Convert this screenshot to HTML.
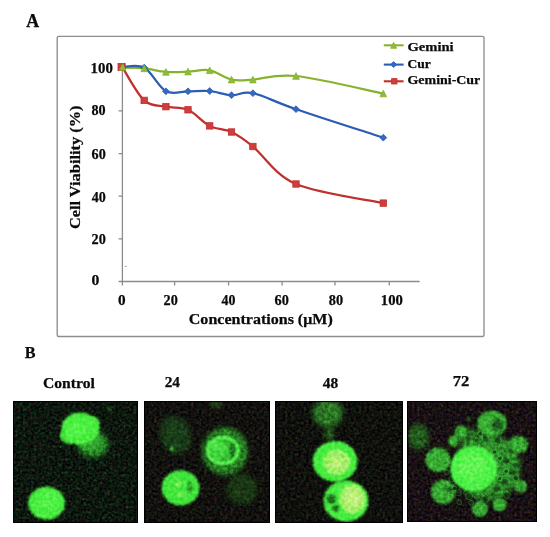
<!DOCTYPE html>
<html><head><meta charset="utf-8"><style>
html,body{margin:0;padding:0;background:#fff;}
body{width:550px;height:537px;overflow:hidden;position:relative;}
svg.main{position:absolute;left:0;top:0;}
text{font-family:"Liberation Serif",serif;font-weight:bold;fill:#0a0a0a;stroke:#0a0a0a;stroke-width:0.25px;}
.tk{font-size:14.5px;}
.ax{font-size:15.5px;}
.lg{font-size:14px;}
.pl{font-size:19.5px;}
.cap{font-size:16.3px;}
</style></head><body>
<svg class="main" width="550" height="537" viewBox="0 0 550 537">
<defs><filter id="noise0" x="0" y="0" width="100%" height="100%" color-interpolation-filters="sRGB"><feTurbulence type="fractalNoise" baseFrequency="0.38" numOctaves="2" seed="3"/><feColorMatrix values="0.28 0.08 0 0 -0.13  0.08 0.36 0 0 -0.13  0.1 0.1 0 0 -0.045  0 0 0 0 1"/></filter><filter id="noise1" x="0" y="0" width="100%" height="100%" color-interpolation-filters="sRGB"><feTurbulence type="fractalNoise" baseFrequency="0.38" numOctaves="2" seed="4"/><feColorMatrix values="0.3 0.1 0 0 -0.13  0.1 0.25 0 0 -0.11  0.1 0.1 0.1 0 -0.095  0 0 0 0 1"/></filter><filter id="noise2" x="0" y="0" width="100%" height="100%" color-interpolation-filters="sRGB"><feTurbulence type="fractalNoise" baseFrequency="0.38" numOctaves="2" seed="5"/><feColorMatrix values="0.25 0.1 0 0 -0.115  0.1 0.25 0 0 -0.11  0.08 0.08 0.08 0 -0.07  0 0 0 0 1"/></filter><filter id="noise3" x="0" y="0" width="100%" height="100%" color-interpolation-filters="sRGB"><feTurbulence type="fractalNoise" baseFrequency="0.38" numOctaves="2" seed="6"/><feColorMatrix values="0.35 0.1 0 0 -0.13  0.1 0.25 0 0 -0.11  0.1 0 0.25 0 -0.1  0 0 0 0 1"/></filter><filter id="b6" x="-50%" y="-50%" width="200%" height="200%"><feGaussianBlur stdDeviation="0.6"/></filter><filter id="b7" x="-50%" y="-50%" width="200%" height="200%"><feGaussianBlur stdDeviation="0.7"/></filter><filter id="b8" x="-50%" y="-50%" width="200%" height="200%"><feGaussianBlur stdDeviation="0.8"/></filter><filter id="b9" x="-50%" y="-50%" width="200%" height="200%"><feGaussianBlur stdDeviation="0.9"/></filter><filter id="b10" x="-50%" y="-50%" width="200%" height="200%"><feGaussianBlur stdDeviation="1.0"/></filter><filter id="b11" x="-50%" y="-50%" width="200%" height="200%"><feGaussianBlur stdDeviation="1.1"/></filter><filter id="b12" x="-50%" y="-50%" width="200%" height="200%"><feGaussianBlur stdDeviation="1.2"/></filter><filter id="b13" x="-50%" y="-50%" width="200%" height="200%"><feGaussianBlur stdDeviation="1.3"/></filter><filter id="b15" x="-50%" y="-50%" width="200%" height="200%"><feGaussianBlur stdDeviation="1.5"/></filter><filter id="b18" x="-50%" y="-50%" width="200%" height="200%"><feGaussianBlur stdDeviation="1.8"/></filter><filter id="b20" x="-50%" y="-50%" width="200%" height="200%"><feGaussianBlur stdDeviation="2.0"/></filter><filter id="b22" x="-50%" y="-50%" width="200%" height="200%"><feGaussianBlur stdDeviation="2.2"/></filter><filter id="b25" x="-50%" y="-50%" width="200%" height="200%"><feGaussianBlur stdDeviation="2.5"/></filter><filter id="b30" x="-50%" y="-50%" width="200%" height="200%"><feGaussianBlur stdDeviation="3.0"/></filter><filter id="tex" x="0" y="0" width="100%" height="100%" color-interpolation-filters="sRGB"><feTurbulence type="fractalNoise" baseFrequency="0.3" numOctaves="3" seed="7"/><feColorMatrix values="0 1.6 0 0 -0.3  0 1.6 0 0 -0.3  0 1.6 0 0 -0.3  0 0 0 0 1"/></filter></defs>
<rect x="57.2" y="36.3" width="426.8" height="300.2" rx="1.5" fill="none" stroke="#8e8e8e" stroke-width="1.35"/><path d="M122.4,67 V285.6 M118.6,281.5 H419.6" stroke="#8c8c8c" stroke-width="1.3" fill="none"/><path d="M118.6,238.8 H122.4 M118.6,196.2 H122.4 M118.6,153.6 H122.4 M118.6,110.9 H122.4 M118.6,68.3 H122.4 M174.6,281.5 V285.6 M228.6,281.5 V285.6 M282.1,281.5 V285.6 M335.0,281.5 V285.6 M389.3,281.5 V285.6" stroke="#8c8c8c" stroke-width="1.3" fill="none"/><text x="90.61" y="72.92" style="font-size:14.4px" textLength="22.28" lengthAdjust="spacingAndGlyphs">100</text><text x="91.40" y="114.72" style="font-size:14.4px" textLength="14.16" lengthAdjust="spacingAndGlyphs">80</text><text x="91.60" y="158.72" style="font-size:14.4px" textLength="14.16" lengthAdjust="spacingAndGlyphs">60</text><text x="91.69" y="201.62" style="font-size:14.4px" textLength="14.07" lengthAdjust="spacingAndGlyphs">40</text><text x="91.53" y="243.62" style="font-size:14.4px" textLength="14.24" lengthAdjust="spacingAndGlyphs">20</text><text x="91.47" y="284.72" style="font-size:14.4px" textLength="7.86" lengthAdjust="spacingAndGlyphs">0</text><text x="117.99" y="305.10" style="font-size:14.4px" textLength="7.62" lengthAdjust="spacingAndGlyphs">0</text><text x="163.53" y="305.10" style="font-size:14.4px" textLength="14.24" lengthAdjust="spacingAndGlyphs">20</text><text x="221.59" y="305.10" style="font-size:14.4px" textLength="13.86" lengthAdjust="spacingAndGlyphs">40</text><text x="274.60" y="305.10" style="font-size:14.4px" textLength="14.27" lengthAdjust="spacingAndGlyphs">60</text><text x="328.80" y="305.10" style="font-size:14.4px" textLength="14.27" lengthAdjust="spacingAndGlyphs">80</text><text x="380.82" y="305.10" style="font-size:14.4px" textLength="22.07" lengthAdjust="spacingAndGlyphs">100</text><text x="188.80" y="324.40" style="font-size:15.4px" textLength="143.98" lengthAdjust="spacingAndGlyphs">Concentrations (μM)</text><text x="-0.82" y="0" style="font-size:15.1px" textLength="123.66" lengthAdjust="spacingAndGlyphs" transform="translate(80.4,228.3) rotate(-90)">Cell Viability (%)</text><rect x="124.8" y="265.9" width="2" height="1.1" fill="#aaa"/><path d="M122.3,67.6 C125.9,67.7 136.9,67.7 144.2,68.4 C151.5,69.1 158.6,71.4 165.9,71.9 C173.2,72.4 180.7,71.9 188.0,71.6 C195.3,71.3 202.4,69.0 209.7,70.3 C216.9,71.6 224.3,78.0 231.5,79.6 C238.7,81.1 242.2,80.2 252.9,79.6 C263.6,79.0 274.3,73.7 296.0,76.0 C317.7,78.3 368.8,90.6 383.3,93.5" fill="none" stroke="#86b22e" stroke-width="2.25" stroke-linejoin="round" stroke-linecap="round"/><path d="M122.3,67.0 C125.9,67.1 136.9,63.5 144.2,67.6 C151.5,71.6 158.6,87.3 165.9,91.3 C173.2,95.2 180.7,91.3 188.0,91.3 C195.3,91.2 202.4,90.3 209.7,91.0 C216.9,91.7 224.3,94.8 231.5,95.2 C238.7,95.6 242.2,90.9 252.9,93.2 C263.6,95.5 274.3,101.8 296.0,109.2 C317.7,116.6 368.8,132.9 383.3,137.7" fill="none" stroke="#2a5db3" stroke-width="2.25" stroke-linejoin="round" stroke-linecap="round"/><path d="M122.3,67.0 C125.9,72.6 136.9,93.8 144.2,100.4 C151.5,107.0 158.6,105.1 165.9,106.7 C173.2,108.3 180.7,106.6 188.0,109.8 C195.3,113.0 202.4,122.2 209.7,125.9 C216.9,129.6 224.3,128.6 231.5,132.0 C238.7,135.4 242.2,137.8 252.9,146.5 C263.6,155.2 274.3,174.6 296.0,184.0 C317.7,193.4 368.8,199.9 383.3,203.1" fill="none" stroke="#c0302e" stroke-width="2.25" stroke-linejoin="round" stroke-linecap="round"/><path d="M122.3,63.6 L125.7,67.0 L122.3,70.4 L118.9,67.0 Z" fill="#3568bf" stroke="#2a5db3" stroke-width="0.8"/><path d="M144.2,64.2 L147.6,67.6 L144.2,71.0 L140.8,67.6 Z" fill="#3568bf" stroke="#2a5db3" stroke-width="0.8"/><path d="M165.9,87.9 L169.3,91.3 L165.9,94.7 L162.5,91.3 Z" fill="#3568bf" stroke="#2a5db3" stroke-width="0.8"/><path d="M188.0,87.9 L191.4,91.3 L188.0,94.7 L184.6,91.3 Z" fill="#3568bf" stroke="#2a5db3" stroke-width="0.8"/><path d="M209.7,87.6 L213.1,91.0 L209.7,94.4 L206.3,91.0 Z" fill="#3568bf" stroke="#2a5db3" stroke-width="0.8"/><path d="M231.5,91.8 L234.9,95.2 L231.5,98.6 L228.1,95.2 Z" fill="#3568bf" stroke="#2a5db3" stroke-width="0.8"/><path d="M252.9,89.8 L256.3,93.2 L252.9,96.6 L249.5,93.2 Z" fill="#3568bf" stroke="#2a5db3" stroke-width="0.8"/><path d="M296.0,105.8 L299.4,109.2 L296.0,112.6 L292.6,109.2 Z" fill="#3568bf" stroke="#2a5db3" stroke-width="0.8"/><path d="M383.3,134.3 L386.7,137.7 L383.3,141.1 L379.9,137.7 Z" fill="#3568bf" stroke="#2a5db3" stroke-width="0.8"/><rect x="118.0" y="63.4" width="7.2" height="7.2" fill="#cf3e3c" stroke="#c0302e" stroke-width="0.8"/><rect x="141.0" y="97.2" width="6.4" height="6.4" fill="#cf3e3c" stroke="#c0302e" stroke-width="0.8"/><rect x="162.7" y="103.5" width="6.4" height="6.4" fill="#cf3e3c" stroke="#c0302e" stroke-width="0.8"/><rect x="184.8" y="106.6" width="6.4" height="6.4" fill="#cf3e3c" stroke="#c0302e" stroke-width="0.8"/><rect x="206.5" y="122.7" width="6.4" height="6.4" fill="#cf3e3c" stroke="#c0302e" stroke-width="0.8"/><rect x="228.3" y="128.8" width="6.4" height="6.4" fill="#cf3e3c" stroke="#c0302e" stroke-width="0.8"/><rect x="249.7" y="143.3" width="6.4" height="6.4" fill="#cf3e3c" stroke="#c0302e" stroke-width="0.8"/><rect x="292.8" y="180.8" width="6.4" height="6.4" fill="#cf3e3c" stroke="#c0302e" stroke-width="0.8"/><rect x="380.1" y="199.9" width="6.4" height="6.4" fill="#cf3e3c" stroke="#c0302e" stroke-width="0.8"/><path d="M122.6,63.7 L125.9,70.3 L119.3,70.3 Z" fill="#8fbb3c" stroke="#86b22e" stroke-width="0.8"/><path d="M144.2,65.1 L147.5,71.7 L140.9,71.7 Z" fill="#8fbb3c" stroke="#86b22e" stroke-width="0.8"/><path d="M165.9,68.6 L169.2,75.2 L162.6,75.2 Z" fill="#8fbb3c" stroke="#86b22e" stroke-width="0.8"/><path d="M188.0,68.3 L191.3,74.9 L184.7,74.9 Z" fill="#8fbb3c" stroke="#86b22e" stroke-width="0.8"/><path d="M209.7,67.0 L213.0,73.6 L206.4,73.6 Z" fill="#8fbb3c" stroke="#86b22e" stroke-width="0.8"/><path d="M231.5,76.3 L234.8,82.9 L228.2,82.9 Z" fill="#8fbb3c" stroke="#86b22e" stroke-width="0.8"/><path d="M252.9,76.3 L256.2,82.9 L249.6,82.9 Z" fill="#8fbb3c" stroke="#86b22e" stroke-width="0.8"/><path d="M296.0,72.7 L299.3,79.3 L292.7,79.3 Z" fill="#8fbb3c" stroke="#86b22e" stroke-width="0.8"/><path d="M383.3,90.2 L386.6,96.8 L380.0,96.8 Z" fill="#8fbb3c" stroke="#86b22e" stroke-width="0.8"/><path d="M383.8,45.3 H403.6" stroke="#86b22e" stroke-width="2.1"/><path d="M393.6,42.3 L396.6,48.3 L390.6,48.3 Z" fill="#8fbb3c" stroke="#86b22e" stroke-width="0.8"/><text x="407.47" y="51.20" style="font-size:13.5px" textLength="46.20" lengthAdjust="spacingAndGlyphs">Gemini</text><path d="M383.8,64.6 H403.6" stroke="#2a5db3" stroke-width="2.1"/><path d="M393.6,61.6 L396.6,64.6 L393.6,67.6 L390.6,64.6 Z" fill="#3568bf" stroke="#2a5db3" stroke-width="0.8"/><text x="407.52" y="68.10" style="font-size:13.5px" textLength="23.28" lengthAdjust="spacingAndGlyphs">Cur</text><path d="M383.8,81.3 H403.6" stroke="#c0302e" stroke-width="2.1"/><rect x="391.6" y="78.6" width="5.4" height="5.4" fill="#cf3e3c" stroke="#c0302e" stroke-width="0.8"/><text x="407.50" y="84.40" style="font-size:13.5px" textLength="72.80" lengthAdjust="spacingAndGlyphs">Gemini-Cur</text><text x="26.32" y="26.80" style="font-size:18.2px" textLength="12.91" lengthAdjust="spacingAndGlyphs">A</text><text x="24.86" y="357.70" style="font-size:17.7px" textLength="10.78" lengthAdjust="spacingAndGlyphs">B</text><text x="43.02" y="388.40" style="font-size:14.9px" textLength="51.79" lengthAdjust="spacingAndGlyphs">Control</text><text x="164.69" y="386.80" style="font-size:15.5px" textLength="15.32" lengthAdjust="spacingAndGlyphs">24</text><text x="322.87" y="388.00" style="font-size:15.5px" textLength="15.47" lengthAdjust="spacingAndGlyphs">48</text><text x="452.68" y="386.30" style="font-size:15.5px" textLength="16.67" lengthAdjust="spacingAndGlyphs">72</text>
<svg x="13" y="401" width="125" height="122" viewBox="0 0 125 122">
<rect width="125" height="122" fill="#000"/>
<rect width="125" height="122" filter="url(#noise0)"/>
<ellipse cx="80" cy="43" rx="15" ry="13" fill="#2e9a2a" opacity="0.95" filter="url(#b25)"/><ellipse cx="75" cy="37" rx="12" ry="10" fill="#36b232" opacity="0.9" filter="url(#b20)"/><ellipse cx="67" cy="27.5" rx="18.5" ry="16" fill="#48ec40" opacity="1.0" filter="url(#b13)"/><ellipse cx="56" cy="35" rx="9" ry="8" fill="#48ec40" opacity="0.9" filter="url(#b13)"/><ellipse cx="79" cy="24" rx="8" ry="9" fill="#48ec40" opacity="0.9" filter="url(#b13)"/><ellipse cx="64" cy="28" rx="10" ry="9" fill="#5cf850" opacity="0.6" filter="url(#b30)"/><ellipse cx="33.6" cy="102.2" rx="18.4" ry="16.4" fill="#48ec40" opacity="1.0" filter="url(#b10)"/><ellipse cx="36" cy="100" rx="9" ry="8" fill="#5cf850" opacity="0.6" filter="url(#b30)"/><ellipse cx="96" cy="8" rx="2" ry="2" fill="#2a7a22" opacity="0.7" filter="url(#b10)"/>
<rect width="125" height="122" filter="url(#tex)" style="mix-blend-mode:overlay" opacity="0.4"/>
<rect x="0.5" y="0.5" width="124" height="121" fill="none" stroke="#000" stroke-width="1.2"/>
</svg><svg x="144" y="401" width="126" height="122" viewBox="0 0 126 122">
<rect width="126" height="122" fill="#000"/>
<rect width="126" height="122" filter="url(#noise1)"/>
<ellipse cx="31.4" cy="34" rx="15" ry="19.5" fill="#1f4c1b" opacity="0.75" filter="url(#b25)" transform="rotate(-20 31.4 34)"/><ellipse cx="28" cy="48" rx="3" ry="2" fill="#3aa030" opacity="0.8" filter="url(#b10)"/><ellipse cx="81" cy="50.3" rx="23" ry="24" fill="#2a8a27" opacity="0.9" filter="url(#b22)"/><ellipse cx="79" cy="49.5" rx="16.8" ry="14.5" fill="#30b02e" opacity="1.0" filter="url(#b10)"/><ellipse cx="79" cy="49.5" rx="15.0" ry="12.9" fill="none" stroke="#5cfc52" stroke-width="3.0" opacity="1.0" filter="url(#b8)"/><ellipse cx="75" cy="49" rx="10" ry="9" fill="#44dc40" opacity="0.9" filter="url(#b18)"/><ellipse cx="72" cy="44" rx="5" ry="4" fill="#60f058" opacity="0.6" filter="url(#b15)"/><ellipse cx="88.5" cy="49" rx="2.8" ry="7.5" fill="#1c6a1a" opacity="0.8" filter="url(#b12)"/><ellipse cx="98" cy="88.2" rx="15.3" ry="15" fill="#1a4218" opacity="0.8" filter="url(#b25)"/><ellipse cx="36.6" cy="86.8" rx="19" ry="17.5" fill="#42e63c" opacity="1.0" filter="url(#b10)"/><ellipse cx="34" cy="83" rx="3" ry="2" fill="#b8f070" opacity="0.8" filter="url(#b12)"/><ellipse cx="37" cy="94" rx="2.5" ry="2" fill="#b8f070" opacity="0.7" filter="url(#b12)"/><ellipse cx="46" cy="86" rx="3" ry="6" fill="#1e7a1c" opacity="0.6" filter="url(#b12)"/><ellipse cx="72" cy="3" rx="6" ry="4" fill="#2a5a22" opacity="0.8" filter="url(#b20)"/>
<rect width="126" height="122" filter="url(#tex)" style="mix-blend-mode:overlay" opacity="0.4"/>
<rect x="0.5" y="0.5" width="125" height="121" fill="none" stroke="#000" stroke-width="1.2"/>
</svg><svg x="275" y="401" width="128" height="122" viewBox="0 0 128 122">
<rect width="128" height="122" fill="#000"/>
<rect width="128" height="122" filter="url(#noise2)"/>
<ellipse cx="52.8" cy="12" rx="15" ry="14" fill="#2e7c28" opacity="0.95" filter="url(#b25)"/><ellipse cx="54" cy="32.5" rx="5" ry="7" fill="#25601f" opacity="0.85" filter="url(#b20)"/><ellipse cx="60.1" cy="60.4" rx="22.4" ry="20.4" fill="#46ec40" opacity="1.0" filter="url(#b9)"/><ellipse cx="61.8" cy="61.3" rx="12.3" ry="11.7" fill="#98ec60" opacity="0.95" filter="url(#b10)"/><ellipse cx="61.8" cy="61.3" rx="12.0" ry="11.4" fill="none" stroke="#c4f67c" stroke-width="1.6" opacity="0.9" filter="url(#b8)"/><ellipse cx="62" cy="62" rx="7" ry="6" fill="#d4f488" opacity="0.7" filter="url(#b20)"/><ellipse cx="71" cy="100" rx="22.4" ry="20.7" fill="#46ec40" opacity="1.0" filter="url(#b9)"/><ellipse cx="77.5" cy="98" rx="12" ry="13.6" fill="#a4ee66" opacity="0.95" filter="url(#b10)"/><ellipse cx="77.5" cy="98" rx="11.7" ry="13.3" fill="none" stroke="#c8f680" stroke-width="1.6" opacity="0.9" filter="url(#b8)"/><ellipse cx="78" cy="97" rx="7" ry="8" fill="#dcf490" opacity="0.7" filter="url(#b20)"/><ellipse cx="56.3" cy="97.9" rx="4.8" ry="4.8" fill="#1d6a1c" opacity="0.95" filter="url(#b8)"/><ellipse cx="60.7" cy="107.2" rx="3.8" ry="3.4" fill="#1d6a1c" opacity="0.95" filter="url(#b8)"/>
<rect width="128" height="122" filter="url(#tex)" style="mix-blend-mode:overlay" opacity="0.4"/>
<rect x="0.5" y="0.5" width="127" height="121" fill="none" stroke="#000" stroke-width="1.2"/>
</svg><svg x="407" y="401" width="130" height="121" viewBox="0 0 130 121">
<rect width="130" height="121" fill="#000"/>
<rect width="130" height="121" filter="url(#noise3)"/>
<ellipse cx="80" cy="66" rx="33" ry="33" fill="#34ac30" opacity="0.82" filter="url(#b25)"/><ellipse cx="62" cy="36" rx="14" ry="9" fill="#2a8826" opacity="0.7" filter="url(#b20)"/><ellipse cx="85" cy="22.4" rx="14.8" ry="12.7" fill="#3ab636" opacity="0.95" filter="url(#b11)"/><ellipse cx="90.5" cy="24" rx="6" ry="6.5" fill="#16441a" opacity="0.8" filter="url(#b18)"/><ellipse cx="53.9" cy="30.3" rx="6" ry="6" fill="#3ab636" opacity="0.9" filter="url(#b10)"/><ellipse cx="46.6" cy="40" rx="5.5" ry="5.5" fill="#3ab636" opacity="0.9" filter="url(#b10)"/><ellipse cx="111.4" cy="43.6" rx="9.7" ry="8.5" fill="#3ab636" opacity="0.92" filter="url(#b10)"/><ellipse cx="31" cy="58.8" rx="12.7" ry="12.2" fill="#3ab636" opacity="0.92" filter="url(#b12)"/><ellipse cx="36.3" cy="90.9" rx="12.1" ry="12.1" fill="#3ab636" opacity="0.92" filter="url(#b12)"/><ellipse cx="42.4" cy="88.5" rx="4" ry="4" fill="#18501a" opacity="0.7" filter="url(#b15)"/><ellipse cx="72.9" cy="107.9" rx="8" ry="8" fill="#3ab636" opacity="0.9" filter="url(#b10)"/><ellipse cx="92.6" cy="103.5" rx="7" ry="7" fill="#3ab636" opacity="0.9" filter="url(#b10)"/><ellipse cx="113.5" cy="85.3" rx="6.5" ry="6.5" fill="#3ab636" opacity="0.85" filter="url(#b10)"/><ellipse cx="11.5" cy="35.7" rx="10.5" ry="12.7" fill="#286e22" opacity="0.8" filter="url(#b22)"/><ellipse cx="61.7" cy="18.2" rx="2" ry="2" fill="#2a7a22" opacity="0.8" filter="url(#b8)"/><ellipse cx="98.8" cy="59.5" rx="3.9" ry="3.9" fill="none" stroke="#46cc3e" stroke-width="0.8" opacity="0.55" filter="url(#b6)"/><ellipse cx="98.8" cy="59.5" rx="3.2" ry="3.2" fill="#123612" opacity="0.85" filter="url(#b8)"/><ellipse cx="104.8" cy="71.4" rx="3.7" ry="3.7" fill="none" stroke="#46cc3e" stroke-width="0.8" opacity="0.55" filter="url(#b6)"/><ellipse cx="104.8" cy="71.4" rx="3.0" ry="3.0" fill="#123612" opacity="0.85" filter="url(#b8)"/><ellipse cx="97.6" cy="81" rx="3.9" ry="3.9" fill="none" stroke="#46cc3e" stroke-width="0.8" opacity="0.55" filter="url(#b6)"/><ellipse cx="97.6" cy="81" rx="3.2" ry="3.2" fill="#123612" opacity="0.85" filter="url(#b8)"/><ellipse cx="108" cy="64" rx="3.2" ry="3.2" fill="none" stroke="#46cc3e" stroke-width="0.8" opacity="0.55" filter="url(#b6)"/><ellipse cx="108" cy="64" rx="2.5" ry="2.5" fill="#123612" opacity="0.85" filter="url(#b8)"/><ellipse cx="90.5" cy="88" rx="3.7" ry="3.7" fill="none" stroke="#46cc3e" stroke-width="0.8" opacity="0.55" filter="url(#b6)"/><ellipse cx="90.5" cy="88" rx="3.0" ry="3.0" fill="#123612" opacity="0.85" filter="url(#b8)"/><ellipse cx="100" cy="94" rx="3.3" ry="3.3" fill="none" stroke="#46cc3e" stroke-width="0.8" opacity="0.55" filter="url(#b6)"/><ellipse cx="100" cy="94" rx="2.6" ry="2.6" fill="#123612" opacity="0.85" filter="url(#b8)"/><ellipse cx="62" cy="95" rx="3.5" ry="3.5" fill="none" stroke="#46cc3e" stroke-width="0.8" opacity="0.55" filter="url(#b6)"/><ellipse cx="62" cy="95" rx="2.8" ry="2.8" fill="#123612" opacity="0.85" filter="url(#b8)"/><ellipse cx="51" cy="91.7" rx="3.2" ry="3.2" fill="none" stroke="#46cc3e" stroke-width="0.8" opacity="0.55" filter="url(#b6)"/><ellipse cx="51" cy="91.7" rx="2.5" ry="2.5" fill="#123612" opacity="0.85" filter="url(#b8)"/><ellipse cx="78.6" cy="97.6" rx="3.7" ry="3.7" fill="none" stroke="#46cc3e" stroke-width="0.8" opacity="0.55" filter="url(#b6)"/><ellipse cx="78.6" cy="97.6" rx="3.0" ry="3.0" fill="#123612" opacity="0.85" filter="url(#b8)"/><ellipse cx="78.6" cy="38" rx="3.5" ry="3.5" fill="none" stroke="#46cc3e" stroke-width="0.8" opacity="0.55" filter="url(#b6)"/><ellipse cx="78.6" cy="38" rx="2.8" ry="2.8" fill="#123612" opacity="0.85" filter="url(#b8)"/><ellipse cx="90.5" cy="39.3" rx="3.7" ry="3.7" fill="none" stroke="#46cc3e" stroke-width="0.8" opacity="0.55" filter="url(#b6)"/><ellipse cx="90.5" cy="39.3" rx="3.0" ry="3.0" fill="#123612" opacity="0.85" filter="url(#b8)"/><ellipse cx="103" cy="50" rx="3.2" ry="3.2" fill="none" stroke="#46cc3e" stroke-width="0.8" opacity="0.55" filter="url(#b6)"/><ellipse cx="103" cy="50" rx="2.5" ry="2.5" fill="#123612" opacity="0.85" filter="url(#b8)"/><ellipse cx="70" cy="40" rx="2.9" ry="2.9" fill="none" stroke="#46cc3e" stroke-width="0.8" opacity="0.55" filter="url(#b6)"/><ellipse cx="70" cy="40" rx="2.2" ry="2.2" fill="#123612" opacity="0.85" filter="url(#b8)"/><ellipse cx="86" cy="94" rx="2.9" ry="2.9" fill="none" stroke="#46cc3e" stroke-width="0.8" opacity="0.55" filter="url(#b6)"/><ellipse cx="86" cy="94" rx="2.2" ry="2.2" fill="#123612" opacity="0.85" filter="url(#b8)"/><ellipse cx="109" cy="77" rx="2.9" ry="2.9" fill="none" stroke="#46cc3e" stroke-width="0.8" opacity="0.55" filter="url(#b6)"/><ellipse cx="109" cy="77" rx="2.2" ry="2.2" fill="#123612" opacity="0.85" filter="url(#b8)"/><ellipse cx="45" cy="78" rx="3.1" ry="3.1" fill="none" stroke="#46cc3e" stroke-width="0.8" opacity="0.55" filter="url(#b6)"/><ellipse cx="45" cy="78" rx="2.4" ry="2.4" fill="#123612" opacity="0.85" filter="url(#b8)"/><ellipse cx="64.1" cy="101.7" rx="2.4" ry="2.4" fill="none" stroke="#46cc3e" stroke-width="0.8" opacity="0.5" filter="url(#b6)"/><ellipse cx="64.1" cy="101.7" rx="1.7" ry="1.7" fill="#123612" opacity="0.7" filter="url(#b7)"/><ellipse cx="39.7" cy="71.3" rx="2.4" ry="2.4" fill="none" stroke="#46cc3e" stroke-width="0.8" opacity="0.5" filter="url(#b6)"/><ellipse cx="39.7" cy="71.3" rx="1.7" ry="1.7" fill="#123612" opacity="0.7" filter="url(#b7)"/><ellipse cx="47.3" cy="87.4" rx="2.4" ry="2.4" fill="none" stroke="#46cc3e" stroke-width="0.8" opacity="0.5" filter="url(#b6)"/><ellipse cx="47.3" cy="87.4" rx="1.7" ry="1.7" fill="#123612" opacity="0.7" filter="url(#b7)"/><ellipse cx="73.2" cy="32.6" rx="2.4" ry="2.4" fill="none" stroke="#46cc3e" stroke-width="0.8" opacity="0.5" filter="url(#b6)"/><ellipse cx="73.2" cy="32.6" rx="1.7" ry="1.7" fill="#123612" opacity="0.7" filter="url(#b7)"/><ellipse cx="93.1" cy="57.3" rx="2.4" ry="2.4" fill="none" stroke="#46cc3e" stroke-width="0.8" opacity="0.5" filter="url(#b6)"/><ellipse cx="93.1" cy="57.3" rx="1.7" ry="1.7" fill="#123612" opacity="0.7" filter="url(#b7)"/><ellipse cx="52.2" cy="101.2" rx="2.4" ry="2.4" fill="none" stroke="#46cc3e" stroke-width="0.8" opacity="0.5" filter="url(#b6)"/><ellipse cx="52.2" cy="101.2" rx="1.7" ry="1.7" fill="#123612" opacity="0.7" filter="url(#b7)"/><ellipse cx="92.7" cy="77.6" rx="2.4" ry="2.4" fill="none" stroke="#46cc3e" stroke-width="0.8" opacity="0.5" filter="url(#b6)"/><ellipse cx="92.7" cy="77.6" rx="1.7" ry="1.7" fill="#123612" opacity="0.7" filter="url(#b7)"/><ellipse cx="87.4" cy="50.7" rx="2.4" ry="2.4" fill="none" stroke="#46cc3e" stroke-width="0.8" opacity="0.5" filter="url(#b6)"/><ellipse cx="87.4" cy="50.7" rx="1.7" ry="1.7" fill="#123612" opacity="0.7" filter="url(#b7)"/><ellipse cx="99.2" cy="70.1" rx="2.4" ry="2.4" fill="none" stroke="#46cc3e" stroke-width="0.8" opacity="0.5" filter="url(#b6)"/><ellipse cx="99.2" cy="70.1" rx="1.7" ry="1.7" fill="#123612" opacity="0.7" filter="url(#b7)"/><ellipse cx="66.7" cy="67.6" rx="23.5" ry="22.5" fill="#4cf044" opacity="1.0" filter="url(#b9)"/><ellipse cx="65" cy="66" rx="14" ry="13" fill="#78f860" opacity="0.5" filter="url(#b30)"/>
<rect width="130" height="121" filter="url(#tex)" style="mix-blend-mode:overlay" opacity="0.4"/>
<rect x="0.5" y="0.5" width="129" height="120" fill="none" stroke="#000" stroke-width="1.2"/>
</svg>
</svg>
</body></html>
